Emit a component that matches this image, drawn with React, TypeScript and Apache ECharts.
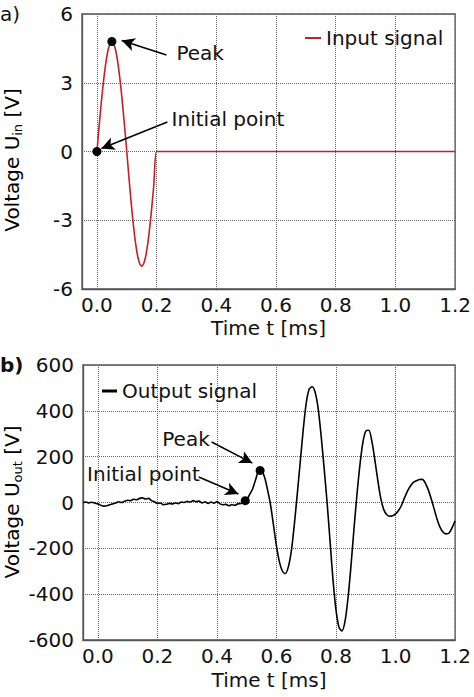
import React, { useEffect, useRef } from 'react';
import * as echarts from 'echarts';

const FONT = 'DejaVu Sans';
const TEXT = '#111';

// ---- panel a) input signal ----
const inputTime = [
  0, 0.01, 0.02, 0.03, 0.04, 0.05, 0.06, 0.07, 0.08, 0.09, 0.1,
  0.11, 0.12, 0.13, 0.14, 0.15, 0.16, 0.17, 0.18, 0.19, 0.2, 0.21, 1.2,
];
const inputVoltage = [
  0, 1.48, 2.82, 3.88, 4.56, 4.8, 4.56, 3.88, 2.82, 1.48, 0,
  -1.55, -2.94, -4.05, -4.76, -5.0, -4.76, -4.05, -2.94, -1.55, 0, 0, 0,
];
const inputInitialPoint = [0, 0];
const inputPeakPoint = [0.05, 4.8];
const inputYTicks = [-6, -3, 0, 3, 6];

// ---- panel b) output signal ----
const outputTime = [
  -0.05, -0.04, -0.03, -0.02, -0.01,
  0, 0.01, 0.02, 0.03, 0.04, 0.05, 0.06, 0.07, 0.08, 0.09,
  0.1, 0.11, 0.12, 0.13, 0.14, 0.15, 0.16, 0.17, 0.18, 0.19,
  0.2, 0.21, 0.22, 0.23, 0.24, 0.25, 0.26, 0.27, 0.28, 0.29,
  0.3, 0.31, 0.32, 0.33, 0.34, 0.35, 0.36, 0.37, 0.38, 0.39,
  0.4, 0.41, 0.42, 0.43, 0.44, 0.45, 0.46, 0.47, 0.48, 0.49,
  0.5, 0.51, 0.52, 0.53, 0.54, 0.55, 0.56, 0.57, 0.58, 0.59,
  0.6, 0.61, 0.62, 0.63, 0.64, 0.65, 0.66, 0.67, 0.68, 0.69,
  0.7, 0.71, 0.72, 0.73, 0.74, 0.75, 0.76, 0.77, 0.78, 0.79,
  0.8, 0.81, 0.82, 0.83, 0.84, 0.85, 0.86, 0.87, 0.88, 0.89,
  0.9, 0.91, 0.92, 0.93, 0.94, 0.95, 0.96, 0.97, 0.98, 0.99,
  1.0, 1.01, 1.02, 1.03, 1.04, 1.05, 1.06, 1.07, 1.08, 1.09,
  1.1, 1.11, 1.12, 1.13, 1.14, 1.15, 1.16, 1.17, 1.18, 1.19,
  1.2,
];
const outputVoltage = [
  0, 2, -2, 1, -3,
  -6, -12, -16, -14, -10, -6, -2, 3, 0, 6,
  10, 8, 14, 12, 18, 20, 15, 18, 8, 3,
  -4, -2, -10, -8, -4, -6, -2, -5, 2, 0,
  5, 2, 8, 4, 6, -2, 3, -4, 2, -3,
  4, -6, -10, -8, -14, -10, -12, -6, -4, 3,
  12, 35, 60, 100, 135, 136, 110, 55, -10, -100,
  -190, -260, -300, -310, -280, -210, -95, 40, 180, 320,
  435, 495, 505, 480, 410, 290, 150, 0, -170, -340,
  -470, -545, -560, -520, -420, -280, -120, 30, 160, 260,
  312, 315, 270, 190, 100, 20, -30, -52, -60, -58,
  -50, -35, -12, 20, 50, 72, 88, 95, 100, 101,
  85, 55, 15, -30, -75, -110, -130, -137, -133, -110,
  -80,
];
const outputInitialPoint = [0.495, 8];
const outputPeakPoint = [0.545, 140];
const outputYTicks = [-600, -400, -200, 0, 200, 400, 600];

const timeMin = -0.05;
const timeMax = 1.2;

// annotation anchors (data coordinates)
const topAnnotations = [
  { text: 'Peak', at: [0.346, 4.3], from: [0.233, 4.21], to: [0.083, 4.84] },
  { text: 'Initial point', at: [0.439, 1.42], from: [0.236, 1.29], to: [0.015, 0.13] },
];
const bottomAnnotations = [
  { text: 'Peak', at: [0.296, 277], from: [0.382, 264], to: [0.519, 172] },
  { text: 'Initial point', at: [0.153, 124], from: [0.339, 111], to: [0.472, 37] },
];

function zip(a: number[], b: number[]) {
  return a.map((v, i) => [v, b[i]]);
}

function annotationSeries(list: any[], xi: number) {
  return {
    type: 'scatter',
    xAxisIndex: xi,
    yAxisIndex: xi,
    data: [],
    silent: true,
    markPoint: {
      symbol: 'circle',
      symbolSize: 1,
      itemStyle: { color: 'rgba(0,0,0,0)' },
      label: {
        show: true,
        position: 'inside',
        formatter: (p: any) => p.name,
        fontFamily: FONT,
        fontSize: 20,
        color: TEXT,
      },
      data: list.map((a) => ({ name: a.text, coord: a.at })),
    },
    markLine: {
      silent: true,
      symbol: ['none', 'arrow'],
      symbolSize: [10, 13],
      label: { show: false },
      lineStyle: { color: '#000', width: 1.5, type: 'solid' },
      data: list.map((a) => [{ coord: a.from }, { coord: a.to }]),
    },
  };
}

const gridLine = { show: true, lineStyle: { color: '#666', type: 'dotted', width: 1 } };
const axisLineStyle = { show: true, onZero: false, lineStyle: { color: '#555', width: 1.3 } };
const labelStyle = { fontFamily: FONT, fontSize: 20, color: TEXT };

function xAxis(gi: number) {
  return {
    type: 'value',
    gridIndex: gi,
    min: timeMin,
    max: timeMax,
    splitNumber: 6,
    name: 'Time t [ms]',
    nameLocation: 'middle',
    nameGap: gi === 0 ? 29 : 30,
    nameTextStyle: { fontFamily: FONT, fontSize: 20, color: TEXT },
    axisLine: axisLineStyle,
    axisTick: { show: false },
    splitLine: gridLine,
    axisLabel: {
      ...labelStyle,
      margin: 6,
      showMinLabel: false,
      formatter: (v: number) => v.toFixed(1),
    },
  };
}

function yAxis(gi: number, ticks: number[]) {
  return {
    type: 'value',
    gridIndex: gi,
    min: ticks[0],
    max: ticks[ticks.length - 1],
    interval: ticks[1] - ticks[0],
    axisLine: axisLineStyle,
    axisTick: { show: false },
    splitLine: gridLine,
    axisLabel: { ...labelStyle, margin: 9 },
  };
}

export default function App() {
  const ref = useRef<HTMLDivElement>(null);
  useEffect(() => {
    document.body.style.margin = '0';
    const chart = echarts.init(ref.current!, null, { renderer: 'svg' });
    const richMain = { fontFamily: FONT, fontSize: 20, color: TEXT, lineHeight: 24 };
    const richSub = { fontFamily: FONT, fontSize: 13, color: TEXT, lineHeight: 13, verticalAlign: 'bottom' };
    chart.setOption({
      animation: false,
      backgroundColor: '#fff',
      grid: [
        { left: 82, right: 16, top: 14, bottom: 408, show: true, borderColor: '#555', borderWidth: 1.3 },
        { left: 83, right: 15, top: 365, bottom: 57, show: true, borderColor: '#555', borderWidth: 1.3 },
      ],
      xAxis: [xAxis(0), xAxis(1)],
      yAxis: [yAxis(0, inputYTicks), yAxis(1, outputYTicks)],
      legend: [
        {
          data: ['Input signal'],
          left: 305,
          top: 28,
          padding: 0,
          icon: 'rect',
          itemWidth: 16,
          itemHeight: 2,
          selectedMode: false,
          textStyle: { fontFamily: FONT, fontSize: 20, color: TEXT },
        },
        {
          data: ['Output signal'],
          left: 102,
          top: 381,
          padding: 0,
          icon: 'rect',
          itemWidth: 15,
          itemHeight: 3,
          selectedMode: false,
          textStyle: { fontFamily: FONT, fontSize: 20, color: TEXT },
        },
      ],
      series: [
        {
          name: 'Input signal',
          type: 'line',
          xAxisIndex: 0,
          yAxisIndex: 0,
          data: zip(inputTime, inputVoltage),
          smooth: 0.35,
          symbol: 'none',
          lineStyle: { color: '#c42026', width: 1.6 },
          itemStyle: { color: '#c42026' },
          z: 3,
        },
        {
          name: 'Output signal',
          type: 'line',
          xAxisIndex: 1,
          yAxisIndex: 1,
          data: zip(outputTime, outputVoltage),
          smooth: 0.3,
          symbol: 'none',
          lineStyle: { color: '#000', width: 1.6 },
          itemStyle: { color: '#000' },
          z: 3,
        },
        {
          type: 'scatter',
          xAxisIndex: 0,
          yAxisIndex: 0,
          data: [inputInitialPoint, inputPeakPoint],
          symbolSize: 9,
          itemStyle: { color: '#000', opacity: 1 },
          z: 5,
        },
        {
          type: 'scatter',
          xAxisIndex: 1,
          yAxisIndex: 1,
          data: [outputInitialPoint, outputPeakPoint],
          symbolSize: 9,
          itemStyle: { color: '#000', opacity: 1 },
          z: 5,
        },
        annotationSeries(topAnnotations, 0),
        annotationSeries(bottomAnnotations, 1),
      ],
      graphic: [
        { type: 'text', left: 0, top: 4, style: { text: 'a)', font: `20px "${FONT}"`, fill: TEXT } },
        { type: 'text', left: 0, top: 355, style: { text: 'b)', font: `bold 20px "${FONT}"`, fill: TEXT } },
        {
          type: 'text',
          x: 12,
          y: 160,
          rotation: Math.PI / 2,
          style: {
            text: '{m|Voltage U}{s|in}{m| [V]}',
            rich: { m: richMain, s: richSub },
            align: 'center',
            verticalAlign: 'middle',
          },
        },
        {
          type: 'text',
          x: 12,
          y: 502,
          rotation: Math.PI / 2,
          style: {
            text: '{m|Voltage U}{s|out}{m| [V]}',
            rich: { m: richMain, s: richSub },
            align: 'center',
            verticalAlign: 'middle',
          },
        },
      ],
    });
    return () => chart.dispose();
  }, []);
  return <div ref={ref} style={{ width: 474, height: 697 }} />;
}
